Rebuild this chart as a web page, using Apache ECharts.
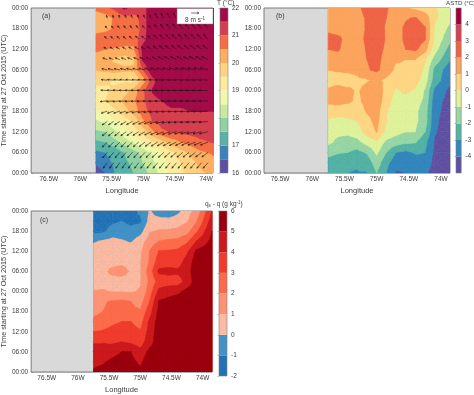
<!DOCTYPE html>
<html><head><meta charset="utf-8">
<style>html,body{margin:0;padding:0;background:#fff}#c{width:474px;height:395px}</style>
<script src="https://cdn.jsdelivr.net/npm/echarts@6/dist/echarts.min.js"></script>
</head><body><div id="c"></div>
<script>
// Grid of the contour fields: columns = longitude, rows = hours (top row first)
const lons = [-75.75,-75.6,-75.45,-75.3,-75.15,-75,-74.85,-74.7,-74.55,-74.4,-74.25,-74.1,-73.85];
const hours = [48,45,42,39,36,33,30,27,24,21,18,15,12,9,6,3,0];

const tempRows = [
[20.7,20.9,21.1,21.6,21.3,21.2,22,22.1,22.2,22.2,22.2,22.2,22.2],
[20.0,20.2,20.6,20.8,20.8,21.2,22,22.1,22.2,22.2,22.2,22.2,22.2],
[20.2,20.3,20.6,20.5,20.6,21.2,22,22.1,22.2,22.2,22.2,22.2,22.2],
[20.8,20.9,21.0,20.9,20.7,21.3,22,22.1,22.2,22.2,22.2,22.2,22.2],
[20.6,20.5,20.4,20.3,20.4,21.7,22.1,22.1,22.2,22.2,22.2,22.2,22.2],
[20.2,20.2,19.9,19.8,19.9,21.6,22.1,22.1,22.2,22.2,22.2,22.2,22.2],
[20.0,20.1,20.2,20.1,20.1,21.0,22,22.1,22.2,22.2,22.2,22.2,22.2],
[19.7,19.6,19.4,19.4,19.3,20.2,21.3,22,22.1,22.2,22.2,22.2,22.2],
[19.3,19.4,19.6,19.8,20.2,20.9,21.55,21.8,21.9,21.9,21.9,21.9,21.9],
[19.3,19.5,19.8,20.1,20.4,20.9,21.35,21.5,21.6,21.6,21.65,21.7,21.7],
[18.9,19.1,19.4,19.8,20.2,20.8,21.2,21.4,21.45,21.45,21.5,21.5,21.5],
[18.4,18.6,18.9,19.2,19.6,20.4,21.0,21.2,21.3,21.3,21.35,21.4,21.4],
[17.9,18.0,18.4,18.8,19.2,19.7,20.4,20.9,21.05,21.1,21.15,21.2,21.3],
[17.4,17.5,17.8,18.2,18.6,19.0,19.4,19.8,20.2,20.5,20.7,20.9,21.05],
[16.9,17.0,17.2,17.5,17.8,18.2,18.6,19.0,19.4,19.8,20.1,20.4,20.6],
[16.6,16.8,17.1,17.4,17.6,18.0,18.4,18.8,19.2,19.5,19.8,20.1,20.4],
[16.2,16.5,17.0,17.3,17.5,17.8,18.2,18.7,19.2,19.4,19.7,19.9,20.2]
];
const astdRows = [
[1.7,1.3,1.3,1.8,2.3,2.4,2.1,1.6,1.1,0.8,0.5,0.1,-0.5],
[1.8,1.7,1.6,1.7,2.1,2.3,2.0,1.5,1.9,2.1,1.6,0.2,-0.8],
[1.8,1.6,1.6,1.6,2.1,2.4,1.9,1.5,2.2,2.6,2.1,-0.1,-1.3],
[2.3,2.2,1.7,1.6,2.2,2.6,1.9,1.5,2.2,2.6,2.1,-0.2,-1.8],
[2.0,2.1,1.6,1.5,2.1,2.4,1.8,1.5,2.0,2.2,1.4,-0.6,-2.5],
[1.6,1.6,1.5,1.5,2.0,2.3,1.6,1.1,1.0,1.0,0.1,-1.4,-3.0],
[1.0,1.1,1.2,1.3,1.9,2.2,1.5,0.8,0.9,0.7,-0.2,-2.3,-3.7],
[0.7,0.6,0.5,0.8,0.9,1.2,0.8,0.4,0.5,0.4,-0.5,-2.5,-3.8],
[1.1,1.4,1.2,0.9,1.3,1.9,0.5,-0.1,0.2,-0.1,-1.1,-3.2,-4.3],
[1.2,1.4,1.2,0.8,1.3,1.8,0.3,-0.3,-0.4,-0.6,-1.2,-3.6,-4.4],
[0.6,0.4,0.4,0.5,1.1,1.4,0.1,-0.5,-0.7,-0.8,-1.5,-3.7,-4.5],
[-0.2,-0.3,-0.2,0.0,0.7,1.3,0.0,-0.5,-0.7,-0.8,-1.5,-3.8,-4.6],
[-0.7,-0.8,-0.8,-0.5,0.4,1.05,-0.3,-0.7,-1.0,-1.0,-2.0,-3.9,-4.6],
[-0.8,-1.2,-1.4,-1.3,-0.6,-0.2,-1.2,-1.5,-1.8,-1.9,-2.7,-4.1,-4.6],
[-1.6,-1.9,-2.0,-2.3,-1.9,-0.8,-2.0,-3.0,-3.2,-2.9,-3.0,-4.2,-4.7],
[-2.5,-2.7,-2.9,-2.9,-2.6,-1.5,-2.7,-3.6,-3.8,-3.5,-3.2,-4.4,-4.8],
[-2.8,-2.9,-3.0,-3.05,-3.05,-2.0,-3.0,-4.1,-4.0,-3.9,-3.7,-4.6,-4.8]
];
const humidRows = [
[-1.5,-1.5,-1.2,-1.3,-1.4,-0.8,0.1,-0.6,-1.1,-0.3,0.6,1.3,4.0],
[-1.5,-1.5,-1.2,-1.0,-1.3,-1.2,0.3,0.4,0.5,0.6,0.9,1.9,4.5],
[-1.3,-1.2,-0.6,-0.5,-0.7,-0.4,0.9,1.1,1.1,1.2,1.6,2.8,5.0],
[-0.1,0.1,0.3,0.1,-0.1,0.5,1.5,2.0,2.2,2.3,2.8,4.0,5.3],
[0.4,0.5,0.5,0.5,0.6,0.8,2.0,3.05,3.1,3.2,3.8,5.2,5.5],
[0.6,0.6,0.7,0.8,0.7,0.9,2.1,3.5,3.5,3.5,4.4,5.5,5.6],
[0.7,0.8,1.2,1.3,0.9,0.9,2.5,4.2,4.3,4.2,4.7,5.5,5.8],
[0.6,0.6,0.7,0.7,0.7,0.9,2.2,3.4,3.5,3.5,4.4,5.5,5.8],
[1.05,1.1,0.95,0.95,0.9,1.1,2.5,4.3,4.6,4.8,5.3,5.6,5.8],
[1.5,1.9,2.1,2.2,2.0,1.6,3.0,5.1,5.3,5.5,5.7,5.8,5.9],
[1.7,2.0,2.2,2.3,2.2,2.1,3.6,5.3,5.5,5.7,5.8,5.9,5.9],
[2.3,2.5,2.8,3.0,3.0,2.6,4.2,5.5,5.6,5.8,5.9,5.9,5.9],
[3.0,3.1,3.3,3.5,3.4,3.1,4.4,5.6,5.7,5.8,5.9,5.9,5.9],
[3.9,3.9,3.8,4.0,3.8,3.5,4.6,5.6,5.8,5.8,5.9,5.9,5.9],
[4.4,4.5,4.7,5.0,5.0,4.3,5.3,5.7,5.8,5.8,5.9,5.9,5.9],
[4.8,4.9,5.2,5.4,5.3,4.8,5.7,5.8,5.8,5.9,5.9,5.9,5.9],
[5.1,5.3,5.5,5.6,5.5,5.3,5.8,5.8,5.9,5.9,5.9,5.9,5.9]
];

const tempLevels = [16,16.5,17,17.5,18,18.5,19,19.5,20,20.5,21,21.5,22];
const astdLevels = [-5,-4,-3,-2,-1,0,1,2,3,4,5];
const humidLevels = [-2,-1,0,1,2,3,4,5,6];
const tempColors = ['#5e4fa2','#3b84bb','#57b3a5','#8fd2a4','#c9e99d','#eff8ab','#fdeb9d','#fed27f','#fdae61','#f46d43','#d53e4f','#a20a48'];
const astdColors = ['#5e4fa2','#3288bd','#54b3a4','#98d6a4','#e0f29a','#fed583','#fba35c','#ee6346','#d8414f','#9e0142'];
const humidColors = ['#2171b5','#4292c6','#fcbba1','#fc9272','#fb6a4a','#ef3b2c','#cb181d','#99000d'];

// Wind vectors in panel (a), m/s
const windLons = [-75.57,-75.47,-75.37,-75.27,-75.17,-75.07,-74.97,-74.87,-74.77,-74.67,-74.57,-74.47,-74.37,-74.27,-74.17,-74.07,-73.97];
const windHours = [45,42,39,36,33,30,27,24,21,18,15,12,9,6,3];
const windU = [
[-0.8,-0.8,-1,-1,-1.2,-1.2,-1.4,-1.8,-2.4,-2.8,-3,-3.2,-3.2,-3.4,-3.4,-3.5,-3.5],
[-2,-2.2,-2.3,-2.4,-2.4,-2.6,-2.6,-2.8,-3.2,-3.5,-3.6,-3.7,-3.8,-3.8,-3.8,-3.9,-3.9],
[-2.8,-2.9,-3,-3,-3.1,-3.2,-3.3,-3.5,-3.9,-4.1,-4.2,-4.3,-4.3,-4.4,-4.4,-4.4,-4.4],
[-3.4,-3.5,-3.6,-3.7,-3.8,-3.9,-4,-4.2,-4.5,-4.7,-4.8,-4.9,-4.9,-5,-5,-5,-5],
[-4.5,-4.6,-4.7,-4.8,-4.9,-5,-5.1,-5.3,-5.5,-5.7,-5.8,-5.8,-5.9,-5.9,-6,-6,-6],
[-5.5,-5.6,-5.7,-5.8,-5.9,-6,-6.2,-6.5,-6.9,-7.1,-7.2,-7.3,-7.4,-7.4,-7.5,-7.5,-7.5],
[-6,-6.1,-6.2,-6.4,-6.6,-6.8,-7.2,-7.8,-8.4,-8.7,-8.8,-8.9,-8.9,-9,-9,-9,-9],
[-6.5,-6.6,-6.8,-7,-7.2,-7.5,-8,-8.5,-9,-9.2,-9.3,-9.4,-9.4,-9.5,-9.5,-9.5,-9.5],
[-7,-7,-7.1,-7.2,-7.4,-7.6,-8,-8.4,-8.7,-8.8,-8.9,-8.9,-9,-9,-9,-9,-9],
[-6,-6.1,-6.2,-6.4,-6.6,-6.9,-7.2,-7.6,-8,-8.2,-8.3,-8.4,-8.4,-8.5,-8.5,-8.5,-8.5],
[-5,-5.1,-5.3,-5.5,-5.8,-6.1,-6.5,-7,-7.5,-8,-8.3,-8.5,-8.7,-8.8,-8.9,-9,-9],
[-5,-5,-5.1,-5.3,-5.5,-5.8,-6.2,-6.6,-7,-7.4,-7.7,-8,-8.2,-8.3,-8.4,-8.5,-8.5],
[-5,-5,-5,-5.1,-5.2,-5.4,-5.7,-6,-6.3,-6.6,-6.8,-7,-7.2,-7.3,-7.4,-7.5,-7.5],
[-4.6,-4.6,-4.7,-4.7,-4.8,-4.9,-5,-5.2,-5.4,-5.5,-5.6,-5.7,-5.8,-5.9,-6,-6,-6],
[-4,-4,-4.1,-4.1,-4.2,-4.2,-4.3,-4.4,-4.5,-4.5,-4.6,-4.6,-4.7,-4.7,-4.8,-4.8,-4.8]
];
const windV = [
[3,3,3.2,3.2,3.3,3.4,3.4,3.6,5,5,5.2,5.2,5.2,5.3,5.3,5.3,5.2],
[2.6,2.7,2.8,2.8,2.9,3,3,3.2,4,4.4,4.6,4.6,4.7,4.7,4.7,4.8,4.8],
[2.4,2.4,2.5,2.5,2.6,2.7,2.8,3,3.8,4.1,4.2,4.3,4.3,4.4,4.4,4.4,4.4],
[2,2,2.1,2.2,2.2,2.3,2.4,2.7,3.2,3.5,3.6,3.7,3.7,3.8,3.8,3.8,3.8],
[1.6,1.6,1.7,1.7,1.8,1.9,2,2.2,2.6,2.8,2.9,2.9,3,3,3,3,3],
[1.2,1.2,1.2,1.3,1.3,1.4,1.5,1.6,1.8,1.9,1.9,2,2,2,2,2,2],
[0.6,0.6,0.6,0.6,0.6,0.6,0.6,0.6,0.6,0.6,0.6,0.6,0.6,0.6,0.6,0.6,0.6],
[0.3,0.3,0.3,0.2,0.2,0.2,0.2,0.2,0.1,0.1,0.1,0.1,0.1,0.1,0.1,0.1,0.1],
[-0.8,-0.8,-0.8,-0.7,-0.7,-0.6,-0.6,-0.5,-0.5,-0.4,-0.4,-0.4,-0.3,-0.3,-0.3,-0.3,-0.3],
[-2,-2,-2,-1.9,-1.8,-1.6,-1.4,-1.2,-1,-0.8,-0.7,-0.6,-0.6,-0.5,-0.5,-0.5,-0.5],
[-3.4,-3.4,-3.3,-3.2,-3,-2.8,-2.6,-2.3,-2,-1.7,-1.5,-1.3,-1.2,-1.1,-1,-1,-1],
[-4,-4,-4,-3.9,-3.8,-3.6,-3.4,-3.1,-2.9,-2.7,-2.5,-2.3,-2.2,-2.1,-2,-2,-2],
[-5,-5,-5,-4.9,-4.8,-4.6,-4.4,-4.2,-4,-3.8,-3.6,-3.4,-3.3,-3.2,-3.1,-3,-3],
[-5.4,-5.4,-5.4,-5.3,-5.3,-5.2,-5.2,-5.1,-5,-5,-4.9,-4.8,-4.8,-4.7,-4.6,-4.5,-4.5],
[-5.5,-5.5,-5.5,-5.5,-5.5,-5.5,-5.5,-5.5,-5.5,-5.5,-5.5,-5.5,-5.5,-5.5,-5.5,-5.5,-5.5]
];
const keySpeed = 8;
const xTicks = [-76.5,-76,-75.5,-75,-74.5,-74];
const yTicks = [0,6,12,18,24,30,36,42,48];

const FONT = '"Liberation Sans", Arial, sans-serif';
const TXT = '#3c3c3c', FRAME = '#7d7d7d';
const PX_PER_MS = 1;

function clipTri(poly, level) {
  const out = [];
  for (let i = 0; i < poly.length; i++) {
    const a = poly[i], b = poly[(i + 1) % poly.length];
    const ia = a[2] >= level, ib = b[2] >= level;
    if (ia) out.push(a);
    if (ia !== ib) {
      const t = (level - a[2]) / (b[2] - a[2]);
      out.push([a[0] + t * (b[0] - a[0]), a[1] + t * (b[1] - a[1]), level]);
    }
  }
  return out;
}
function contourSeries(idx, rows, levels, colors) {
  // one item per (band, cell), ordered by band so higher bands paint over lower ones everywhere
  const cells = [];
  colors.forEach((c, k) => {
    for (let j = 0; j < hours.length - 1; j++)
      for (let i = 0; i < lons.length - 1; i++)
        cells.push([(lons[i] + lons[i + 1]) / 2, (hours[j] + hours[j + 1]) / 2, i, j, k]);
  });
  return {
    type: 'custom', xAxisIndex: idx, yAxisIndex: idx, silent: true, clip: true, z: 2,
    encode: { x: 0, y: 1 }, data: cells,
    renderItem(params, api) {
      const i = api.value(2), j = api.value(3), k = api.value(4);
      const p = (ii, jj) => [lons[ii], hours[jj], rows[jj][ii]];
      const A = p(i, j), B = p(i + 1, j), C = p(i + 1, j + 1), D = p(i, j + 1);
      const M = [(A[0] + C[0]) / 2, (A[1] + C[1]) / 2, (A[2] + B[2] + C[2] + D[2]) / 4];
      const tris = [[A, B, M], [B, C, M], [C, D, M], [D, A, M]];
      const children = [];
      for (const t of tris) {
        const poly = k === 0 ? t : clipTri(t, levels[k]);
        if (poly.length < 3) continue;
        children.push({
          type: 'polygon',
          shape: { points: poly.map(q => api.coord([q[0], q[1]])) },
          style: { fill: colors[k], stroke: colors[k], lineWidth: 0.5 }
        });
      }
      return { type: 'group', children };
    }
  };
}
function windSeries(idx) {
  const data = [];
  windHours.forEach((h, j) => windLons.forEach((lon, i) => data.push([lon, h, windU[j][i], windV[j][i]])));
  return {
    type: 'custom', xAxisIndex: idx, yAxisIndex: idx, silent: true, clip: true, z: 3,
    encode: { x: 0, y: 1 }, data,
    renderItem(params, api) {
      const s = api.coord([api.value(0), api.value(1)]);
      const dx = api.value(2) * PX_PER_MS, dy = -api.value(3) * PX_PER_MS;
      const tip = [s[0] + dx, s[1] + dy];
      const len = Math.hypot(dx, dy) || 1, ux = dx / len, uy = dy / len, h = 1.8;
      const col = 'rgba(20,20,20,0.9)';
      return {
        type: 'group', children: [
          { type: 'polyline', shape: { points: [s, tip] }, style: { stroke: col, lineWidth: 0.65, fill: 'none' } },
          { type: 'polyline', shape: { points: [
            [tip[0] - h * ux - h * 0.45 * uy, tip[1] - h * uy + h * 0.45 * ux], tip,
            [tip[0] - h * ux + h * 0.45 * uy, tip[1] - h * uy - h * 0.45 * ux]] },
            style: { stroke: col, lineWidth: 0.65, fill: 'none' } }
        ]
      };
    }
  };
}
function barSeries(idx, levels, colors) {
  return {
    type: 'custom', xAxisIndex: idx, yAxisIndex: idx, silent: true, clip: true,
    encode: { y: 0 }, data: colors.map((c, k) => [levels[k], levels[k + 1], k]),
    renderItem(params, api) {
      const lo = api.coord([0, api.value(0)]), hi = api.coord([1, api.value(1)]);
      return { type: 'rect', shape: { x: lo[0], y: hi[1], width: hi[0] - lo[0], height: lo[1] - hi[1] },
        style: { fill: colors[api.value(2)] } };
    }
  };
}
const hh = v => String(v % 24).padStart(2, '0') + ':00';
const panels = [
  { left: 29, top: 8, w: 184, xmin: -76.78, xmax: -73.89, cb: 220, rows: tempRows, levels: tempLevels, colors: tempColors, name: true, wind: true, labs: [16,17,18,19,20,21,22] },
  { left: 264, top: 8, w: 186, xmin: -76.75, xmax: -73.86, cb: 456, rows: astdRows, levels: astdLevels, colors: astdColors, name: false, labs: [-4,-3,-2,-1,0,1,2,3,4] },
  { left: 27, top: 211, w: 185, xmin: -76.75, xmax: -73.85, cb: 219, rows: humidRows, levels: humidLevels, colors: humidColors, name: true, labs: [-2,-1,0,1,2,3,4,5,6] }
];
const grid = [], xAxis = [], yAxis = [], series = [];
panels.forEach(p => {
  const idx = grid.length;
  grid.push({ left: p.left, top: p.top, width: p.w, height: 165, show: true, backgroundColor: '#d9d9d9', borderColor: FRAME, borderWidth: 1, z: 1 });
  xAxis.push({
    gridIndex: idx, type: 'value', min: p.xmin, max: p.xmax, name: 'Longitude', nameLocation: 'middle', nameGap: 14,
    nameTextStyle: { fontFamily: FONT, fontSize: 7.5, color: TXT },
    axisLine: { show: false }, axisTick: { inside: true, length: 2, lineStyle: { color: FRAME, width: 0.6 }, customValues: xTicks },
    splitLine: { show: true, lineStyle: { color: '#c6c6c6', width: 0.6 } },
    axisLabel: { customValues: xTicks, margin: 3, fontFamily: FONT, fontSize: 6.5, color: TXT, formatter: v => Math.abs(v) + 'W' }
  });
  yAxis.push({
    gridIndex: idx, type: 'value', min: 0, max: 48, interval: 6,
    name: p.name ? 'Time starting at 27 Oct 2015 (UTC)' : '', nameLocation: 'middle', nameGap: 22, nameRotate: 90,
    nameTextStyle: { fontFamily: FONT, fontSize: 7.2, color: TXT },
    axisLine: { show: false }, axisTick: { inside: true, length: 2, lineStyle: { color: FRAME, width: 0.6 } },
    splitLine: { show: true, lineStyle: { color: '#c6c6c6', width: 0.6 } },
    axisLabel: { margin: 3, fontFamily: FONT, fontSize: 6.5, color: TXT, formatter: hh }
  });
  series.push(contourSeries(idx, p.rows, p.levels, p.colors));
  if (p.wind) series.push(windSeries(idx));
  const cbIdx = grid.length;
  const n = p.levels.length - 1;
  grid.push({ left: p.cb, top: p.top, width: 8, height: 165, show: true, borderColor: FRAME, borderWidth: 0.6, backgroundColor: 'transparent', z: 4 });
  xAxis.push({ gridIndex: cbIdx, type: 'value', min: 0, max: 1, show: false });
  yAxis.push({
    gridIndex: cbIdx, type: 'value', position: 'right', min: p.levels[0], max: p.levels[n],
    splitLine: { show: false }, axisLine: { show: false },
    axisTick: { inside: true, length: 1.5, lineStyle: { color: FRAME, width: 0.5 }, customValues: p.labs },
    axisLabel: { customValues: p.labs, margin: 4, fontFamily: FONT, fontSize: 6.5, color: TXT }
  });
  series.push(barSeries(cbIdx, p.levels, p.colors));
});
// arrow in the reference-vector box, positioned by the same scale as the quiver
const keyLen = keySpeed * PX_PER_MS;
const rich = { s: { fontFamily: FONT, fontSize: 4.5, color: TXT, verticalAlign: 'top', padding: [0, 0, 3, 0] },
               n: { fontFamily: FONT, fontSize: 6.5, color: TXT }, q: { fontFamily: FONT, fontSize: 4.5, color: TXT, padding: [3, 0, 0, 0] } };
const graphic = [
  { type: 'rect', z: 100, shape: { x: 177, y: 8.5, width: 36, height: 15.5 }, style: { fill: '#fff', stroke: FRAME, lineWidth: 0.5 } },
  { type: 'polyline', z: 101, shape: { points: [[191, 13], [191 + keyLen, 13]] }, style: { stroke: '#2a2a2a', lineWidth: 0.6, fill: 'none' } },
  { type: 'polyline', z: 101, shape: { points: [[191 + keyLen - 2, 12], [191 + keyLen, 13], [191 + keyLen - 2, 14]] }, style: { stroke: '#2a2a2a', lineWidth: 0.6, fill: 'none' } },
  { type: 'text', z: 101, left: 185, top: 16, style: { text: '{n|8 m s}{s|-1}', rich, fill: TXT } },
  { type: 'text', z: 101, left: 42, top: 13, style: { text: '(a)', font: '7px ' + FONT, fill: TXT } },
  { type: 'text', z: 101, left: 276, top: 13, style: { text: '(b)', font: '7px ' + FONT, fill: TXT } },
  { type: 'text', z: 101, left: 40, top: 217, style: { text: '(c)', font: '7px ' + FONT, fill: TXT } },
  { type: 'text', z: 101, left: 217, top: 0, style: { text: 'T (°C)', font: '6.5px ' + FONT, fill: TXT } },
  { type: 'text', z: 101, left: 446, top: 0, style: { text: 'ASTD (°C)', font: '6.2px ' + FONT, fill: TXT } },
  { type: 'text', z: 101, left: 205, top: 200, style: { text: '{n|q}{q|s}{n| - q (g kg}{s|-1}{n|)}', rich, fill: TXT } }
];
const chart = echarts.init(document.getElementById('c'), null, { renderer: 'canvas' });
chart.setOption({ animation: false, backgroundColor: '#fff', grid, xAxis, yAxis, series, graphic });
</script></body></html>
